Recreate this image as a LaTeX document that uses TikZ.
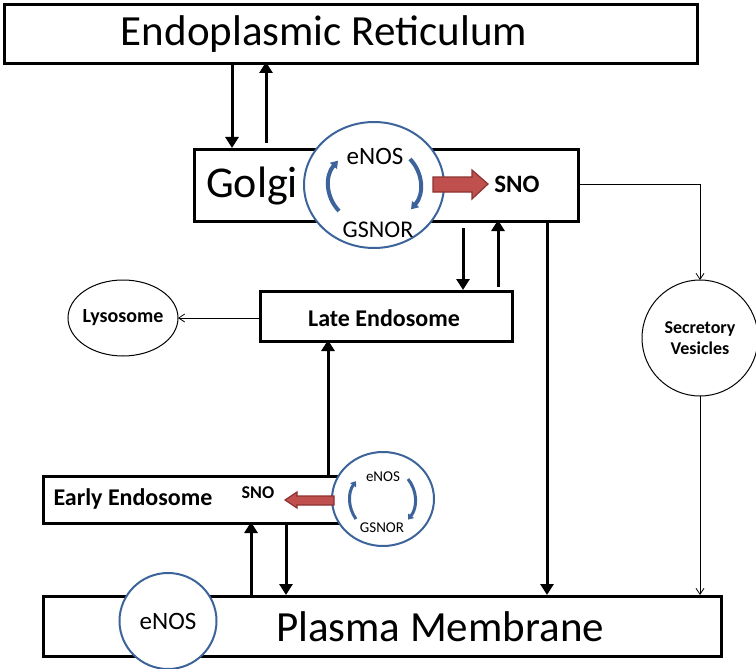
\documentclass[tikz,border=0pt]{standalone}
\usepackage{fontspec}
\setmainfont{Carlito}
\usetikzlibrary{arrows.meta,shapes.geometric}
\definecolor{cblue}{RGB}{60,100,155}
\definecolor{cred}{RGB}{192,80,77}
\definecolor{cdred}{RGB}{140,50,48}
\tikzset{
 box/.style={draw,line width=3pt,inner sep=0pt,anchor=north west},
 flow/.style={line width=3pt,-{Triangle[length=11pt,width=13pt]}},
 thin/.style={line width=0.8pt,-{Straight Barb[length=6pt,width=8pt]}},
 ring/.style={draw=cblue,line width=2pt,ellipse},
 cyc/.style={draw=cblue,line width=4pt,-{Triangle[length=7pt,width=9pt]}},
 fat/.style={draw=cdred,fill=cred,line width=1.2pt,line join=miter},
}
\begin{document}
\begin{tikzpicture}[x=1pt,y=-1pt]
\useasboundingbox (0,0) rectangle (756,669);
% boxes
\node[box,minimum width=693pt,minimum height=59pt] (er) at (3,3) {};
\node[font=\fontsize{43}{43}\selectfont] (ert) at (324,34) {Endoplasmic Reticulum};
\node[box,minimum width=384pt,minimum height=72pt] (golgi) at (193,148) {};
\node[font=\fontsize{44}{44}\selectfont] (gt) at (252,186) {Golgi};
\node[box,minimum width=252pt,minimum height=50pt] (late) at (259,290) {};
\node[font=\bfseries\fontsize{24}{24}\selectfont] (lt) at (384,318) {Late Endosome};
\node[box,minimum width=303pt,minimum height=47pt] (early) at (42,475) {};
\node[font=\bfseries\fontsize{24}{24}\selectfont] (et) at (133,499) {Early Endosome};
\node[box,minimum width=678pt,minimum height=60pt] (pm) at (42,595) {};
\node[font=\fontsize{43}{43}\selectfont] (pmt) at (440,627) {Plasma Membrane};
% circles
\draw[line width=1pt] (123,318) ellipse (55 and 38);
\node[font=\bfseries\fontsize{20}{20}\selectfont] (lys) at (123,318) {Lysosome};
\coordinate (lysE) at (178,318);
\draw[line width=1pt] (700,338) ellipse (58 and 58);
\node[font=\bfseries\fontsize{18}{21}\selectfont,align=center] (sv) at (700,338) {Secretory\\Vesicles};
\coordinate (svN) at (700,280);
\coordinate (svS) at (700,396);
\node[ring,fill=white,minimum width=140pt,minimum height=126pt] (gc) at (374,185) {};
\node[font=\fontsize{25}{25}\selectfont] (ge) at (375,156) {eNOS};
\node[font=\fontsize{24}{24}\selectfont] (gg) at (378,230) {GSNOR};
\draw[cyc] (339,211) arc[start angle=140,end angle=218,x radius=45,y radius=40];
\draw[cyc] (410,159) arc[start angle=-40,end angle=38,x radius=45,y radius=40];
\draw[fat] (433,177) -- (472,177) -- (472,170) -- (488,184) -- (472,199) -- (472,192) -- (433,192) -- cycle;
\node[font=\bfseries\fontsize{25}{25}\selectfont] (gs) at (517,184) {SNO};
\node[ring,fill=white,minimum width=102pt,minimum height=94pt] (ec) at (383,499) {};
\node[font=\fontsize{15}{15}\selectfont] (ee) at (383,477) {eNOS};
\node[font=\fontsize{15}{15}\selectfont] (eg) at (382,528) {GSNOR};
\draw[cyc,line width=3pt,-{Triangle[length=5pt,width=7pt]}] (356,519) arc[start angle=145,end angle=215,x radius=34,y radius=33];
\draw[cyc,line width=3pt,-{Triangle[length=5pt,width=7pt]}] (408,479) arc[start angle=-38,end angle=38,x radius=34,y radius=33];
\draw[fat] (334,496) -- (297,496) -- (297,492) -- (285,500) -- (297,508) -- (297,505) -- (334,505) -- cycle;
\node[font=\bfseries\fontsize{18}{18}\selectfont] (es) at (258,493) {SNO};
\node[ring,fill=white,minimum width=97pt,minimum height=96pt] (pc) at (168,621) {};
\node[font=\fontsize{25}{25}\selectfont] (pe) at (168,621) {eNOS};
% connectors
\draw[flow] (232,62) -- (232,148);
\draw[flow] (266,143) -- (266,62);
\draw[flow] (463,228) -- (463,290);
\draw[flow] (498,287) -- (498,220);
\draw[flow] (547,220) -- (547,595);
\draw[flow] (328,475) -- (328,340);
\draw[flow] (251,595) -- (251,522);
\draw[flow] (286,522) -- (286,595);
\draw[thin] (259,318) -- (lysE);
\draw[thin] (577,184) -- (700,184) -- (svN);
\draw[thin] (svS) -- (700,595);
\end{tikzpicture}
\end{document}
